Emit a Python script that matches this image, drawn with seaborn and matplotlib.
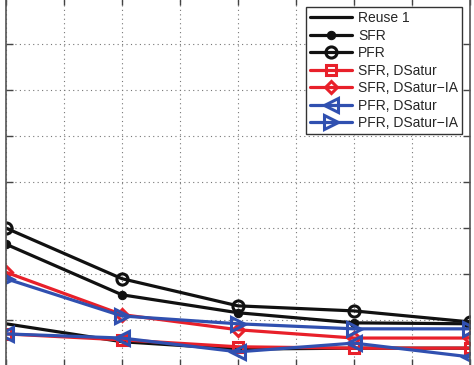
import numpy as np
import pandas as pd
import matplotlib
matplotlib.use('Agg')
import matplotlib.pyplot as plt
import seaborn as sns

# values (axis labels are cropped away)
x_vals = [1, 2, 3, 4, 5]
reuse1 = [0.92, 0.53, 0.37, 0.39, 0.39]
sfr = [2.65, 1.55, 1.16, 0.94, 0.92]
pfr = [3.00, 1.90, 1.31, 1.20, 0.96]
sfr_dsatur = [0.70, 0.57, 0.42, 0.39, 0.39]
sfr_dsatur_ia = [2.04, 1.12, 0.79, 0.61, 0.61]
pfr_dsatur = [0.70, 0.61, 0.31, 0.50, 0.20]
pfr_dsatur_ia = [1.90, 1.09, 0.92, 0.81, 0.81]

labels = ['Reuse 1', 'SFR', 'PFR', 'SFR, DSatur', 'SFR, DSatur\u2212IA',
          'PFR, DSatur', 'PFR, DSatur\u2212IA']
series = [reuse1, sfr, pfr, sfr_dsatur, sfr_dsatur_ia, pfr_dsatur, pfr_dsatur_ia]

black = '#111111'
red = '#e8202a'
blue = '#3050b0'
styles = [
    dict(color=black, marker=None),
    dict(color=black, marker='o', ms=6, mfc=black),
    dict(color=black, marker='o', ms=8, mfc='none', mew=2.2),
    dict(color=red, marker='s', ms=7, mfc='none', mew=2.2),
    dict(color=red, marker='D', ms=6, mfc='none', mew=2.2),
    dict(color=blue, marker='<', ms=10, mfc='none', mew=2.2),
    dict(color=blue, marker='>', ms=10, mfc='none', mew=2.2),
]

sns.set_style('white')
plt.rcParams['font.family'] = ['Liberation Sans', 'DejaVu Sans']

fig = plt.figure(figsize=(4.74, 3.65), dpi=100)
ax = fig.add_axes([6 / 474, -0.003, 464 / 474, 1.008])

for lab, vals, st in zip(labels, series, styles):
    df = pd.DataFrame({'x': x_vals, 'y': vals})
    st = dict(st)
    color = st.pop('color')
    marker = st.pop('marker')
    if marker is None:
        sns.lineplot(data=df, x='x', y='y', ax=ax, color=color, lw=2.3,
                     label=lab)
    else:
        sns.lineplot(data=df, x='x', y='y', ax=ax, color=color, lw=2.3,
                     marker=marker, markeredgecolor=color, label=lab, **st)

ax.set_xlim(1, 5)
ax.set_ylim(0, 8)
ax.set_xticks(np.arange(1, 5.01, 0.5))
ax.set_yticks(np.arange(0, 8.01, 1))
ax.set_xticklabels([])
ax.set_yticklabels([])
ax.set_xlabel('')
ax.set_ylabel('')
ax.grid(True, ls=(0, (1, 3)), color='#777777', lw=0.8)
ax.tick_params(direction='in', length=5, width=1, top=True, right=True,
               bottom=True, left=True, color='#444444')
for sp in ax.spines.values():
    sp.set_color('#555555')
    sp.set_linewidth(1.2)

leg = ax.legend(loc='upper right', bbox_to_anchor=(462 / 474, 358 / 365),
                bbox_transform=fig.transFigure, fontsize=10,
                handlelength=3.0, handletextpad=0.45, borderpad=0.3,
                labelspacing=0.25, frameon=True, fancybox=False,
                edgecolor='#333333', framealpha=1, borderaxespad=0)
leg.get_frame().set_linewidth(1.0)

fig.savefig('out.png', dpi=100)
